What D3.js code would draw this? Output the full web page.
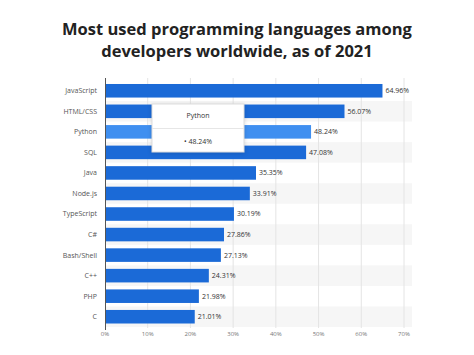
<!DOCTYPE html>
<html><head><meta charset="utf-8">
<script src="https://cdn.jsdelivr.net/npm/d3@7"></script>
<style>
html,body{margin:0;padding:0;background:#fff;}
svg{display:block;}
</style></head>
<body>
<script>
const categories = ["JavaScript","HTML/CSS","Python","SQL","Java","Node.js","TypeScript","C#","Bash/Shell","C++","PHP","C"];
const values = [64.96,56.07,48.24,47.08,35.35,33.91,30.19,27.86,27.13,24.31,21.98,21.01];
const xTicks = [0,10,20,30,40,50,60,70];
const titleLines = ["Most used programming languages among","developers worldwide, as of 2021"];
const highlighted = "Python";

const W = 474, H = 355;
const svg = d3.select("body").append("svg").attr("width", W).attr("height", H);

const x = d3.scaleLinear().domain([0, 70]).range([105, 404]);
const y = d3.scaleBand().domain(categories).range([80.5, 327]).paddingInner(0.34).paddingOuter(0.17);
const step = y.step();

// title
svg.append("g").selectAll("text").data(titleLines).join("text")
  .attr("x", 237).attr("y", (d,i) => 35 + i*22)
  .attr("text-anchor","middle")
  .attr("font-family","Open Sans, sans-serif").attr("font-weight",700)
  .attr("font-size",16.5).attr("fill","#222")
  .text(d => d);

// stripes
svg.append("g").selectAll("rect").data(categories.filter((d,i)=>i%2===1)).join("rect")
  .attr("x", x(0)).attr("width", 412 - x(0))
  .attr("y", d => y(d) - step*y.paddingInner()/2).attr("height", step)
  .attr("fill","#f6f6f6");

// gridlines
svg.append("g").selectAll("line").data(xTicks.slice(1)).join("line")
  .attr("x1", d => x(d)).attr("x2", d => x(d))
  .attr("y1", 78).attr("y2", 328)
  .attr("stroke","#e4e4e4").attr("stroke-width",1);

// bars
svg.append("g").selectAll("rect").data(categories).join("rect")
  .attr("x", x(0)).attr("y", d => y(d))
  .attr("width", (d,i) => x(values[i]) - x(0)).attr("height", y.bandwidth())
  .attr("fill", d => d === highlighted ? "#3f8ff0" : "#1b6ad7");

// axis line
svg.append("line").attr("x1", x(0)+0.5).attr("x2", x(0)+0.5).attr("y1", 78).attr("y2", 330)
  .attr("stroke","#555").attr("stroke-width",1);

// category labels
svg.append("g").selectAll("text").data(categories).join("text")
  .attr("x", 97).attr("y", d => y(d) + y.bandwidth()/2)
  .attr("dy","0.35em").attr("text-anchor","end")
  .attr("font-family","Open Sans, sans-serif").attr("font-size",7).attr("fill","#555")
  .text(d => d);

// value labels
svg.append("g").selectAll("text").data(categories).join("text")
  .attr("x", (d,i) => x(values[i]) + 3).attr("y", d => y(d) + y.bandwidth()/2)
  .attr("dy","0.35em")
  .attr("font-family","Open Sans, sans-serif").attr("font-size",7).attr("fill","#333")
  .text((d,i) => values[i].toFixed(2) + "%");

// x ticks
svg.append("g").selectAll("text").data(xTicks).join("text")
  .attr("x", d => x(d)).attr("y", 334).attr("dy","0.35em").attr("text-anchor","middle")
  .attr("font-family","Open Sans, sans-serif").attr("font-size",6).attr("fill","#777")
  .text(d => d + "%");

// tooltip
const hi = categories.indexOf(highlighted);
const tip = svg.append("g");
tip.append("rect").attr("x",152).attr("y",104).attr("width",92).attr("height",48)
  .attr("fill","#fff").attr("stroke","#ddd").attr("stroke-width",1)
  .style("filter","drop-shadow(0px 1px 2px rgba(0,0,0,0.15))");
tip.append("line").attr("x1",152).attr("x2",244).attr("y1",128.5).attr("y2",128.5).attr("stroke","#e6e6e6");
tip.append("text").attr("x",198).attr("y",116).attr("dy","0.35em").attr("text-anchor","middle")
  .attr("font-family","Open Sans, sans-serif").attr("font-size",7).attr("fill","#333").text(highlighted);
tip.append("text").attr("x",198).attr("y",142).attr("dy","0.35em").attr("text-anchor","middle")
  .attr("font-family","Open Sans, sans-serif").attr("font-size",7).attr("fill","#333")
  .text("\u2022  " + values[hi].toFixed(2) + "%");
</script>
</body></html>
